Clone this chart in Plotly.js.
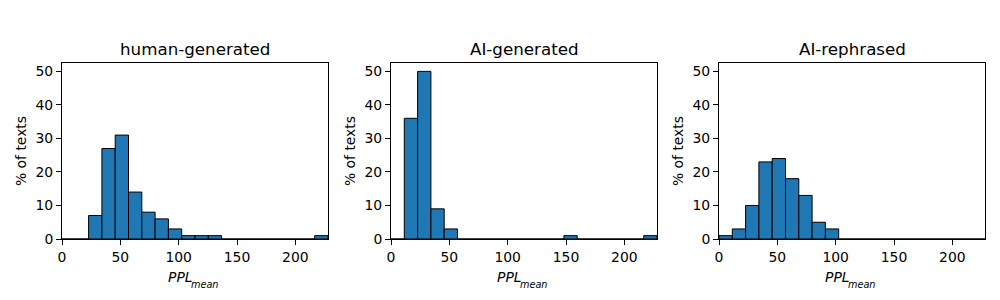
<!DOCTYPE html>
<html>
<head>
<meta charset="utf-8">
<script src="https://cdn.plot.ly/plotly-3.0.1.min.js"></script>
<style>html,body{margin:0;padding:0;background:#fff;}#chart{width:1000px;height:300px;}</style>
</head>
<body>
<div id="chart"></div>
<script>
// Histogram bin edges (PPL_mean), 20 bins
const binEdges = [0, 11.4, 22.8, 34.2, 45.6, 57.0, 68.4, 79.8, 91.2, 102.6, 114.0,
                  125.4, 136.8, 148.2, 159.6, 171.0, 182.4, 193.8, 205.2, 216.6, 228.0];
const panelTitles = ["human-generated", "AI-generated", "AI-rephrased"];
// % of texts per bin
const humanPct     = [0, 0, 7, 27, 31, 14, 8, 6, 3, 1, 1, 1, 0, 0, 0, 0, 0, 0, 0, 1];
const aiGenPct     = [0, 36, 50, 9, 3, 0, 0, 0, 0, 0, 0, 0, 0, 1, 0, 0, 0, 0, 0, 1];
const aiRephPct    = [1, 3, 10, 23, 24, 18, 13, 5, 3, 0, 0, 0, 0, 0, 0, 0, 0, 0, 0, 0];
const xTicks = [0, 50, 100, 150, 200];
const yTicks = [0, 10, 20, 30, 40, 50];
const xLabelMain = "PPL";
const xLabelSub = "mean";
const yLabel = "% of texts";

const series = [humanPct, aiGenPct, aiRephPct];
const lefts = binEdges.slice(0, -1);
const widths = lefts.map((e, i) => binEdges[i + 1] - e);

const domains = [[0.062, 0.328], [0.391, 0.657], [0.719, 0.985]];
const yDomain = [1 - 239 / 300, 1 - 63 / 300];
const font = {family: "DejaVu Sans", size: 13.9, color: "#000"};

const traces = series.map((vals, i) => ({
  type: "bar",
  x: lefts,
  y: vals,
  width: widths,
  offset: 0,
  xaxis: i === 0 ? "x" : "x" + (i + 1),
  yaxis: i === 0 ? "y" : "y" + (i + 1),
  marker: {color: "#1f77b4", line: {color: "#000", width: 1}},
  hoverinfo: "skip",
  showlegend: false
}));

const layout = {
  width: 1000, height: 300,
  margin: {l: 0, r: 0, t: 0, b: 0},
  paper_bgcolor: "#fff", plot_bgcolor: "#fff",
  font: font,
  bargap: 0,
  annotations: []
};

domains.forEach((d, i) => {
  const sfx = i === 0 ? "" : String(i + 1);
  layout["xaxis" + sfx] = {
    domain: d, anchor: "y" + sfx, range: [0, 228.0],
    tickmode: "array", tickvals: xTicks, ticktext: xTicks.map(String),
    ticks: "outside", ticklen: 5, tickwidth: 1, tickcolor: "#000",
    showline: true, linecolor: "#000", linewidth: 1, mirror: true,
    showgrid: false, zeroline: false, tickfont: font
  };
  layout["yaxis" + sfx] = {
    domain: yDomain, anchor: "x" + sfx, range: [0, 52.5],
    tickmode: "array", tickvals: yTicks, ticktext: yTicks.map(String),
    ticks: "outside", ticklen: 5, tickwidth: 1, tickcolor: "#000",
    showline: true, linecolor: "#000", linewidth: 1, mirror: true,
    showgrid: false, zeroline: false, tickfont: font,
    title: {text: yLabel, font: font, standoff: 5}
  };
  const cx = (d[0] + d[1]) / 2;
  layout.annotations.push({
    text: panelTitles[i], xref: "paper", yref: "paper", x: cx, y: 1 - 49 / 300,
    xanchor: "center", yanchor: "middle", showarrow: false,
    font: {family: "DejaVu Sans", size: 16.7, color: "#000"}
  });
  const splitX = (cx * 1000 - 3) / 1000;
  layout.annotations.push({
    text: "<i>" + xLabelMain + "</i>", xref: "paper", yref: "paper", x: splitX, y: 1 - 277 / 300,
    xanchor: "right", yanchor: "middle", showarrow: false, borderpad: 0, xshift: 2,
    font: font
  });
  layout.annotations.push({
    text: "<i>" + xLabelSub + "</i>", xref: "paper", yref: "paper", x: splitX, y: 1 - 284 / 300,
    xanchor: "left", yanchor: "middle", showarrow: false, borderpad: 0, xshift: -2,
    font: {family: "DejaVu Sans", size: 9.7, color: "#000"}
  });
});

Plotly.newPlot("chart", traces, layout, {staticPlot: true, displayModeBar: false});
</script>
</body>
</html>
